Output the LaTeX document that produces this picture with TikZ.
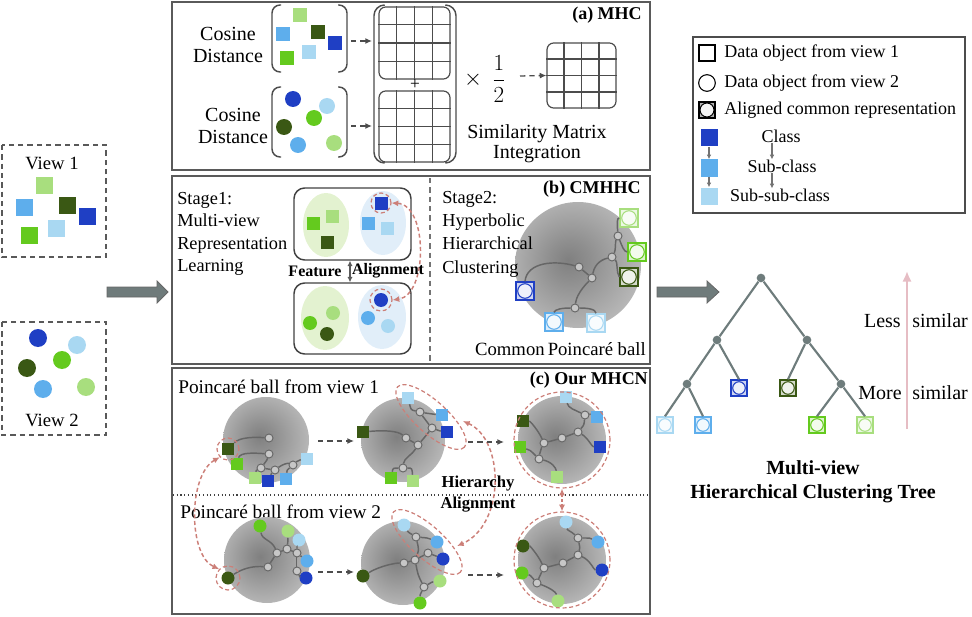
\documentclass[tikz,border=0pt]{standalone}
\usepackage{fontspec}
\setmainfont{Liberation Serif}
\usetikzlibrary{arrows.meta,calc}
\definecolor{cB}{HTML}{1F3FC4}
\definecolor{cM}{HTML}{5EAEEC}
\definecolor{cL}{HTML}{A9D8F2}
\definecolor{gD}{HTML}{3A5814}
\definecolor{gB}{HTML}{64CA1E}
\definecolor{gL}{HTML}{A8DE7E}
\definecolor{pinkc}{HTML}{CC7F78}
\definecolor{pinkl}{HTML}{E6BDC4}
\definecolor{treec}{HTML}{6E7C7C}
\definecolor{framec}{HTML}{5A5A5A}
\definecolor{arrc}{HTML}{6F7B7B}
\definecolor{ellG}{HTML}{E3F2D0}
\definecolor{ellB}{HTML}{E1EEF9}
\pgfdeclareradialshading{ballshade}{\pgfpoint{-4bp}{2bp}}{color(0bp)=(black!50); color(8bp)=(black!44); color(50bp)=(black!9)}
\newcommand\fN{\fontsize{14pt}{17pt}\selectfont}
\newcommand\fC{\fontsize{15pt}{18pt}\selectfont}
\newcommand\fL{\fontsize{13.5pt}{16pt}\selectfont}
\newcommand\fT{\fontsize{13.5pt}{16pt}\selectfont\bfseries}
\newcommand\fF{\fontsize{12pt}{15pt}\selectfont\bfseries}
\newcommand\gridin[1]{\foreach \i in {1,2,3}{%
  \draw[matline] ($(#1.north west)!\i/4!(#1.north east)$) -- ($(#1.south west)!\i/4!(#1.south east)$);
  \draw[matline] ($(#1.north west)!\i/4!(#1.south west)$) -- ($(#1.north east)!\i/4!(#1.south east)$);}}
% aligned leaf: name, position, colour, size (pt)
\newcommand\alleaf[4]{%
  \node[rectangle, draw=#3, line width=1.1pt, fill=#3!22, minimum size=#4, inner sep=0pt] (#1) at (#2) {};
  \node[circle, draw=#3, line width=0.8pt, fill=#3!8, minimum size=#4-2.6pt, inner sep=0pt] (#1c) at (#2) {};}
\begin{document}
\begin{tikzpicture}[x=0.75pt,y=-0.75pt,
  frame/.style={draw=framec, line width=1.5pt},
  vbox/.style={draw=black!65, dashed, dash pattern=on 4pt off 3pt, line width=1.1pt},
  brak/.style={draw=black!70, line width=1.1pt, rounded corners=6pt},
  matbox/.style={draw=black!70, line width=0.9pt, rounded corners=5pt, inner sep=0pt},
  matline/.style={draw=black!70, line width=0.9pt},
  darrow/.style={draw=black!70, dashed, dash pattern=on 4pt off 3pt, line width=1pt, -{Latex[length=5pt,width=4.5pt]}},
  pinkarr/.style={draw=pinkc, dashed, dash pattern=on 3pt off 2pt, line width=1.1pt, {Latex[length=5pt,width=4.5pt]}-{Latex[length=5pt,width=4.5pt]}},
  pinkring/.style={draw=pinkc, dashed, dash pattern=on 3pt off 2pt, line width=0.9pt},
  bigarrow/.style={fill=arrc, draw=black!60, line width=0.6pt},
  s17/.style={rectangle, inner sep=0pt, minimum size=12.75pt, fill=#1},
  c18/.style={circle, inner sep=0pt, minimum size=13.5pt, fill=#1},
  s14/.style={rectangle, inner sep=0pt, minimum size=10.5pt, fill=#1},
  c16/.style={circle, inner sep=0pt, minimum size=12pt, fill=#1},
  s13/.style={rectangle, inner sep=0pt, minimum size=9.75pt, fill=#1},
  c14/.style={circle, inner sep=0pt, minimum size=10.5pt, fill=#1},
  s12/.style={rectangle, inner sep=0pt, minimum size=9pt, fill=#1},
  c13/.style={circle, inner sep=0pt, minimum size=9.75pt, fill=#1},
  tn/.style={circle, draw=black!60, fill=black!22, line width=0.7pt, inner sep=0pt, minimum size=6pt},
  tedge/.style={draw=black!60, line width=1.1pt},
  rtn/.style={circle, fill=treec, inner sep=0pt, minimum size=6.5pt},
  redge/.style={draw=treec, line width=1.6pt},
  txt/.style={inner sep=0pt, font=\fN}
]
\useasboundingbox (0,0) rectangle (972,617);

% ================= frames =================
\draw[frame] (172,2) rectangle (650,170);
\draw[frame] (172,176) rectangle (650,364);
\draw[frame] (172,368) rectangle (650,614);
\draw[draw=black!55, dashed, dash pattern=on 4pt off 3pt, line width=0.8pt] (430,178) -- (430,362);
\draw[draw=black!75, dotted, line width=0.8pt] (173,495) -- (649,495);

% ================= views =================
\draw[vbox] (2,145) rectangle (106,257);
\draw[vbox] (2,322) rectangle (106,435);
\node[txt] (v1t) at (52,163) {View 1};
\node[txt] (v2t) at (52,420) {View 2};
\node[s17=gL] (v1a) at (44,185) {};
\node[s17=cM] (v1b) at (24,207) {};
\node[s17=gD] (v1c) at (67,205) {};
\node[s17=cB] (v1d) at (87,216) {};
\node[s17=gB] (v1e) at (29,235) {};
\node[s17=cL] (v1f) at (56,228) {};
\node[c18=cB] (v2a) at (38,338) {};
\node[c18=cL] (v2b) at (77,345) {};
\node[c18=gD] (v2c) at (27,368) {};
\node[c18=gB] (v2d) at (62,360) {};
\node[c18=cM] (v2e) at (43,389) {};
\node[c18=gL] (v2f) at (86,387) {};
\draw[bigarrow] (107,287) -- (157,287) -- (157,281) -- (168,292) -- (157,303) -- (157,297) -- (107,297) -- cycle;
\draw[bigarrow] (657,287) -- (707,287) -- (707,281) -- (719,292) -- (707,303) -- (707,297) -- (657,297) -- cycle;

% ================= (a) MHC =================
\node[anchor=east, inner sep=0pt, font=\fT] (atitle) at (642,15) {(a) MHC};
\node[align=center, inner sep=0pt, font=\fC] (cos1) at (228,45) {Cosine\\[-1pt]Distance};
\node[align=center, inner sep=0pt, font=\fC] (cos2) at (233,126) {Cosine\\[-1pt]Distance};
\draw[brak] (281,5) -- (272,5) -- (272,72) -- (281,72);
\draw[brak] (338,5) -- (347,5) -- (347,72) -- (338,72);
\draw[brak] (281,87) -- (272,87) -- (272,157) -- (281,157);
\draw[brak] (338,87) -- (347,87) -- (347,157) -- (338,157);
\node[s14=gL] (ga) at (300,15) {};
\node[s14=cM] (gb) at (283,34) {};
\node[s14=gD] (gc) at (318,32) {};
\node[s14=cB] (gd) at (335,43) {};
\node[s14=gB] (ge) at (287,58) {};
\node[s14=cL] (gf) at (309,52) {};
\node[c16=cB] (ha) at (293,99) {};
\node[c16=cL] (hb) at (327,106) {};
\node[c16=gD] (hc) at (284,127) {};
\node[c16=gB] (hd) at (314,118) {};
\node[c16=cM] (he) at (298,145) {};
\node[c16=gL] (hf) at (334,143) {};
\draw[brak, rounded corners=8pt] (384,5) -- (374,5) -- (374,163) -- (384,163);
\draw[brak, rounded corners=8pt] (446,5) -- (456,5) -- (456,163) -- (446,163);
\node[matbox, minimum width=53.25pt, minimum height=54pt] (m1) at (414.5,43) {};
\node[matbox, minimum width=53.25pt, minimum height=53.25pt] (m2) at (414.5,126.5) {};
\node[matbox, minimum width=51.75pt, minimum height=48.75pt] (m3) at (581.5,75.5) {};
\gridin{m1}\gridin{m2}\gridin{m3}
\node[inner sep=0pt, font=\fontsize{13pt}{15pt}\selectfont] (plus) at (415,85) {+};
\coordinate (g1o) at (351,41); \coordinate (g1i) at (372,41);
\coordinate (g2o) at (351,126); \coordinate (g2i) at (372,126);
\draw[darrow] (g1o) -- (g1i);
\draw[darrow] (g2o) -- (g2i);
\node[inner sep=0pt, font=\fontsize{17pt}{20pt}\selectfont] (times) at (473,80) {$\times$};
\node[inner sep=0pt, font=\fontsize{17pt}{20pt}\selectfont] (half) at (499,79) {$\displaystyle\frac{1}{2}$};
\coordinate (hfo) at (520,76);
\draw[darrow] (hfo) -- (m3.west);
\node[align=center, inner sep=0pt, font=\fC] (simint) at (537,144) {Similarity Matrix\\[-3pt]Integration};

% ================= (b) CMHHC =================
\node[anchor=east, inner sep=0pt, font=\fT] (btitle) at (641,189) {(b) CMHHC};
\node[anchor=west, align=left, inner sep=0pt, font=\fontsize{13.75pt}{16.8pt}\selectfont] (st1) at (177,234) {Stage1:\\Multi-view\\Representation\\Learning};
\fill[ellG] (326,225) ellipse (23 and 32);
\fill[ellB] (383,223) ellipse (23 and 32);
\fill[ellG] (325,318) ellipse (24 and 32);
\fill[ellB] (382,317) ellipse (24 and 32);
\node[draw=black!75, line width=1.1pt, rounded corners=8pt, inner sep=0pt, minimum width=87.75pt, minimum height=54pt] (fb1) at (352.5,224) {};
\node[draw=black!75, line width=1.1pt, rounded corners=8pt, inner sep=0pt, minimum width=87.75pt, minimum height=53.25pt] (fb2) at (352.5,318.5) {};
\node[s13=gB] (fa1) at (313,223) {};
\node[s13=gL] (fa2) at (332,216) {};
\node[s13=gD] (fa3) at (327,242) {};
\node[s13=cB] (fa4) at (381,203) {};
\node[s13=cM] (fa5) at (368,223) {};
\node[s13=cL] (fa6) at (387,228) {};
\node[c14=gB] (fb1a) at (310,323) {};
\node[c14=gL] (fb1b) at (333,313) {};
\node[c14=gD] (fb1c) at (327,334) {};
\node[c14=cB] (fb1d) at (381,300) {};
\node[c14=cM] (fb1e) at (368,318) {};
\node[c14=cL] (fb1f) at (388,326) {};
\node[pinkring, circle, inner sep=0pt, minimum size=15pt] (rg1) at (381,203) {};
\node[pinkring, circle, inner sep=0pt, minimum size=16.5pt] (rg2) at (381,300) {};
\draw[pinkarr] (rg1.east) .. controls (428,205) and (428,295) .. (rg2.east);
\draw[draw=black!65, line width=1.1pt, {Latex[length=4pt,width=4pt]}-{Latex[length=4pt,width=4pt]}] (fb1.south -| 350,0) -- (fb2.north -| 350,0);
\node[inner sep=0pt, font=\fF] (feat) at (315,271) {Feature};
\node[inner sep=0pt, font=\fF] (alig) at (388,271) {Alignment};

% common Poincare ball
\shade[shading=ballshade] (578,265) circle (63);
\node[anchor=west, align=left, inner sep=0pt, font=\fontsize{13.75pt}{17.5pt}\selectfont] (st2) at (442,234) {Stage2:\\Hyperbolic\\Hierarchical\\Clustering};
\node[tn] (bn1) at (579,267) {};
\node[tn] (bn2) at (592,278) {};
\node[tn] (bn3) at (612,257) {};
\node[tn] (bn4) at (618,236) {};
\node[tn] (bn5) at (575,308) {};
\alleaf{bl1}{525,291}{cB}{13.5pt}
\alleaf{bl2}{554,322}{cM}{13.5pt}
\alleaf{bl3}{596,323}{cL}{13.5pt}
\alleaf{bl4}{629,218}{gL}{13.5pt}
\alleaf{bl5}{637,252}{gB}{13.5pt}
\alleaf{bl6}{629,277}{gD}{13.5pt}
\draw[tedge] (bl1.north) .. controls (527,262) and (555,260) .. (bn1);
\draw[tedge] (bn1) -- (bn2);
\draw[tedge] (bn2) .. controls (595,262) and (604,259) .. (bn3);
\draw[tedge] (bn3) .. controls (616,250) and (615,242) .. (bn4);
\draw[tedge] (bn4) .. controls (617,222) and (617,218) .. (bl4.west);
\draw[tedge] (bn4) .. controls (622,246) and (624,252) .. (bl5.west);
\draw[tedge] (bn3) .. controls (618,262) and (616,272) .. (bl6.west);
\draw[tedge] (bn2) .. controls (580,290) and (576,298) .. (bn5);
\draw[tedge] (bn5) .. controls (563,308) and (555,309) .. (bl2.north);
\draw[tedge] (bn5) .. controls (587,308) and (596,309) .. (bl3.north);
\node[anchor=east, inner sep=0pt, font=\fN] (cpb) at (646,349) {Common\,Poincaré ball};

% ================= (c) Our MHCN =================
\node[anchor=east, inner sep=0pt, font=\fT] (ctitle) at (648,380) {(c) Our MHCN};
\node[anchor=west, inner sep=0pt, font=\fontsize{14.5pt}{17pt}\selectfont] (pb1) at (178,387) {Poincaré ball from view 1};
\node[anchor=west, inner sep=0pt, font=\fontsize{14.5pt}{17pt}\selectfont] (pb2) at (180,512) {Poincaré ball from view 2};

% ball V1a
\shade[shading=ballshade] (266,440) circle (43);
\node[s12=gD] (a1) at (228,449) {};
\node[s12=gB] (a2) at (237,464) {};
\node[s12=gL] (a3) at (255,478) {};
\node[s12=cB] (a4) at (268,481) {};
\node[s12=cM] (a5) at (286,479) {};
\node[s12=cL] (a6) at (307,459) {};
\node[tn] (an1) at (269,438) {};
\node[tn] (an2) at (269,454) {};
\node[tn] (an3) at (261,468) {};
\node[tn] (an4) at (275,470) {};
\node[tn] (an5) at (293,465) {};
\draw[tedge] (a1) .. controls (240,437) and (255,437) .. (an1);
\draw[tedge] (a2) .. controls (240,452) and (255,453) .. (an2);
\draw[tedge] (an2) .. controls (267,460) .. (an3);
\draw[tedge] (an3) .. controls (256,470) .. (a3);
\draw[tedge] (an3) -- (an4);
\draw[tedge] (an4) .. controls (271,474) .. (a4);
\draw[tedge] (an4) .. controls (283,464) and (288,463) .. (an5);
\draw[tedge] (an5) .. controls (287,470) .. (a5);
\draw[tedge] (an5) .. controls (298,460) .. (a6);

% ball V2a
\shade[shading=ballshade] (267,560) circle (43);
\node[c13=gB] (b1) at (260,526) {};
\node[c13=gL] (b2) at (288,531) {};
\node[c13=cL] (b3) at (299,540) {};
\node[c13=cM] (b4) at (307,561) {};
\node[c13=cB] (b5) at (306,578) {};
\node[c13=gD] (b6) at (228,578) {};
\node[tn] (bb1) at (268,567) {};
\node[tn] (bb2) at (277,553) {};
\node[tn] (bb3) at (287,549) {};
\node[tn] (bb4) at (297,553) {};
\node[tn] (bb5) at (297,571) {};
\draw[tedge] (b6) .. controls (245,567) and (256,566) .. (bb1);
\draw[tedge] (bb1) .. controls (272,560) .. (bb2);
\draw[tedge] (bb2) .. controls (272,540) and (262,540) .. (b1);
\draw[tedge] (bb2) -- (bb3);
\draw[tedge] (bb3) .. controls (288,542) .. (b2);
\draw[tedge] (bb3) -- (bb4);
\draw[tedge] (bb4) .. controls (297,546) .. (b3);
\draw[tedge] (bb4) .. controls (302,557) .. (b4);
\draw[tedge] (bb4) .. controls (296,562) .. (bb5);
\draw[tedge] (bb5) .. controls (300,577) .. (b5);

\node[pinkring, circle, inner sep=0pt, minimum size=16.5pt] (ra1) at (228,449) {};
\node[pinkring, circle, inner sep=0pt, minimum size=18pt] (ra2) at (228,578) {};
\draw[pinkarr] (ra1.south west) .. controls (188,475) and (188,555) .. (ra2.north west);

% ball V1b
\shade[shading=ballshade] (403,440) circle (42);
\node[s12=gD] (c1) at (363,432) {};
\node[s12=cL] (c2) at (408,398) {};
\node[s12=cM] (c3) at (442,415) {};
\node[s12=cB] (c4) at (447,432) {};
\node[s12=gB] (c5) at (391,478) {};
\node[s12=gL] (c6) at (413,481) {};
\node[tn] (cn1) at (406,438) {};
\node[tn] (cn2) at (418,445) {};
\node[tn] (cn3) at (420,412) {};
\node[tn] (cn4) at (432,428) {};
\node[tn] (cn5) at (403,468) {};
\draw[tedge] (c1) .. controls (385,430) and (398,431) .. (cn1);
\draw[tedge] (cn1) -- (cn2);
\draw[tedge] (cn2) .. controls (424,438) .. (cn4);
\draw[tedge] (cn4) .. controls (425,420) .. (cn3);
\draw[tedge] (cn3) .. controls (411,410) .. (c2);
\draw[tedge] (cn3) .. controls (430,414) .. (c3);
\draw[tedge] (cn4) .. controls (440,431) .. (c4);
\draw[tedge] (cn2) .. controls (412,455) and (404,458) .. (cn5);
\draw[tedge] (cn5) .. controls (393,468) .. (c5);
\draw[tedge] (cn5) .. controls (412,468) .. (c6);

% ball V2b
\shade[shading=ballshade] (403,563) circle (42);
\node[c13=gD] (d1) at (363,576) {};
\node[c13=cL] (d2) at (404,525) {};
\node[c13=cM] (d3) at (437,542) {};
\node[c13=cB] (d4) at (443,559) {};
\node[c13=gL] (d5) at (440,581) {};
\node[c13=gB] (d6) at (420,603) {};
\node[tn] (dn1) at (404,563) {};
\node[tn] (dn2) at (415,560) {};
\node[tn] (dn3) at (416,537) {};
\node[tn] (dn4) at (428,553) {};
\node[tn] (dn5) at (424,587) {};
\draw[tedge] (d1) .. controls (380,566) and (395,563) .. (dn1);
\draw[tedge] (dn1) -- (dn2);
\draw[tedge] (dn2) .. controls (419,550) .. (dn3);
\draw[tedge] (dn3) .. controls (408,532) .. (d2);
\draw[tedge] (dn3) .. controls (428,538) .. (d3);
\draw[tedge] (dn2) -- (dn4);
\draw[tedge] (dn4) .. controls (436,556) .. (d4);
\draw[tedge] (dn2) .. controls (418,575) .. (dn5);
\draw[tedge] (dn5) .. controls (432,582) .. (d5);
\draw[tedge] (dn5) .. controls (420,595) .. (d6);

\draw[pinkring, rotate around={-42:(431,417)}] (431,417) ellipse (45 and 16);
\draw[pinkring, rotate around={-42:(427,542)}] (427,542) ellipse (45 and 16);
\coordinate (ha1) at (463,421);
\coordinate (ha2) at (457,546);
\draw[pinkarr] (ha1) .. controls (505,440) and (505,525) .. (ha2);
\node[inner sep=0pt, font=\fontsize{12.5pt}{15pt}\selectfont\bfseries] (hier) at (478,484) {Hierarchy};
\node[inner sep=0pt, font=\fontsize{12.5pt}{15pt}\selectfont\bfseries] (hali) at (478,505) {Alignment};

\coordinate (dv1o) at (318,441); \coordinate (dv1i) at (354,441);
\coordinate (dv2o) at (318,572); \coordinate (dv2i) at (354,572);
\coordinate (dv3o) at (468,442); \coordinate (dv3i) at (504,442);
\coordinate (dv4o) at (468,575); \coordinate (dv4i) at (504,575);
\draw[darrow] (dv1o) -- (dv1i);
\draw[darrow] (dv2o) -- (dv2i);
\draw[darrow] (dv3o) -- (dv3i);
\draw[darrow] (dv4o) -- (dv4i);

% ball A1
\shade[shading=ballshade] (562,440) circle (44);
\node[s12=gD] (e1) at (523,421) {};
\node[s12=gB] (e2) at (520,447) {};
\node[s12=cL] (e3) at (566,397) {};
\node[s12=cM] (e4) at (597,417) {};
\node[s12=cB] (e5) at (600,447) {};
\node[s12=gL] (e6) at (557,477) {};
\node[tn] (en1) at (562,438) {};
\node[tn] (en2) at (578,432) {};
\node[tn] (en3) at (544,443) {};
\node[tn] (en4) at (539,459) {};
\node[tn] (en5) at (585,415) {};
\draw[tedge] (en1) -- (en2);
\draw[tedge] (en2) .. controls (584,425) .. (en5);
\draw[tedge] (en5) .. controls (575,410) and (568,408) .. (e3);
\draw[tedge] (en5) .. controls (590,414) .. (e4);
\draw[tedge] (en2) .. controls (588,438) and (592,447) .. (e5);
\draw[tedge] (en1) -- (en3);
\draw[tedge] (en3) .. controls (538,430) and (530,421) .. (e1);
\draw[tedge] (en3) .. controls (540,450) .. (en4);
\draw[tedge] (en4) .. controls (530,450) .. (e2);
\draw[tedge] (en4) .. controls (552,462) and (556,468) .. (e6);

% ball A2
\shade[shading=ballshade] (562,560) circle (44);
\node[c13=gD] (f1) at (523,546) {};
\node[c13=gB] (f2) at (522,573) {};
\node[c13=cL] (f3) at (566,522) {};
\node[c13=cM] (f4) at (598,542) {};
\node[c13=cB] (f5) at (602,570) {};
\node[c13=gL] (f6) at (558,601) {};
\node[tn] (fn1) at (563,563) {};
\node[tn] (fn2) at (578,555) {};
\node[tn] (fn3) at (544,568) {};
\node[tn] (fn4) at (537,583) {};
\node[tn] (fn5) at (578,538) {};
\draw[tedge] (fn1) -- (fn2);
\draw[tedge] (fn2) .. controls (580,548) .. (fn5);
\draw[tedge] (fn5) .. controls (572,532) and (567,530) .. (f3);
\draw[tedge] (fn5) .. controls (590,538) .. (f4);
\draw[tedge] (fn2) .. controls (590,560) and (594,570) .. (f5);
\draw[tedge] (fn1) -- (fn3);
\draw[tedge] (fn3) .. controls (538,555) and (530,546) .. (f1);
\draw[tedge] (fn3) .. controls (540,575) .. (fn4);
\draw[tedge] (fn4) .. controls (530,575) .. (f2);
\draw[tedge] (fn4) .. controls (550,588) and (556,592) .. (f6);

\node[pinkring, circle, inner sep=0pt, minimum size=72pt] (rA1) at (562,440) {};
\node[pinkring, circle, inner sep=0pt, minimum size=72pt] (rA2) at (562,560) {};
\draw[pinkarr, dash pattern=on 2pt off 1.5pt] (rA1.south) -- (rA2.north);

% ================= legend =================
\draw[draw=black!70, line width=1pt] (693,37) rectangle (965,213);
\node[rectangle, draw=black, line width=0.8pt, minimum size=12pt, inner sep=0pt] (lg1) at (707,53) {};
\node[circle, draw=black, line width=0.8pt, minimum size=12.5pt, inner sep=0pt] (lg2) at (707,83) {};
\node[rectangle, draw=black, line width=0.8pt, fill=black!30, minimum size=12pt, inner sep=0pt] (lg3) at (707,110) {};
\node[circle, draw=black, line width=0.8pt, fill=black!5, minimum size=10.5pt, inner sep=0pt] (lg3c) at (707,110) {};
\node[anchor=west, inner sep=0pt, font=\fL] (lt1) at (724,53) {Data object from view 1};
\node[anchor=west, inner sep=0pt, font=\fL] (lt2) at (724,83) {Data object from view 2};
\node[anchor=west, inner sep=0pt, font=\fL] (lt3) at (724,110) {Aligned common representation};
\node[rectangle, fill=cB, minimum size=12.75pt, inner sep=0pt] (lc1) at (709,138) {};
\node[rectangle, fill=cM, minimum size=12.75pt, inner sep=0pt] (lc2) at (709,168) {};
\node[rectangle, fill=cL, minimum size=12.75pt, inner sep=0pt] (lc3) at (709,196) {};
\draw[draw=black!55, line width=0.8pt, -{Latex[length=3.5pt,width=3.5pt]}] (lc1) -- (lc2);
\draw[draw=black!55, line width=0.8pt, -{Latex[length=3.5pt,width=3.5pt]}] (lc2) -- (lc3);
\node[inner sep=0pt, font=\fL] (lh1) at (781,136) {Class};
\node[inner sep=0pt, font=\fL] (lh2) at (782,166) {Sub-class};
\node[inner sep=0pt, font=\fL] (lh3) at (780,195) {Sub-sub-class};
\draw[draw=black!55, line width=0.8pt, -{Latex[length=3.5pt,width=3.5pt]}] (lh1.south -| 772,0) -- (lh2.north -| 772,0);
\draw[draw=black!55, line width=0.8pt, -{Latex[length=3.5pt,width=3.5pt]}] (lh2.south -| 772,0) -- (lh3.north -| 772,0);

% ================= tree =================
\node[rtn] (r0) at (761,278) {};
\node[rtn] (r1) at (717,340) {};
\node[rtn] (r2) at (807,340) {};
\node[rtn] (r3) at (687,384) {};
\node[rtn] (r4) at (841,384) {};
\alleaf{t1}{665,425}{cL}{12pt}
\alleaf{t2}{703,425}{cM}{12pt}
\alleaf{t3}{739,388}{cB}{12pt}
\alleaf{t4}{788,388}{gD}{12pt}
\alleaf{t5}{817,425}{gB}{12pt}
\alleaf{t6}{865,425}{gL}{12pt}
\draw[redge] (r0) -- (r1);
\draw[redge] (r0) -- (r2);
\draw[redge] (r1) -- (r3);
\draw[redge] (r1) -- (t3.north);
\draw[redge] (r2) -- (t4.north);
\draw[redge] (r2) -- (r4);
\draw[redge] (r3) -- (t1.north);
\draw[redge] (r3) -- (t2.north);
\draw[redge] (r4) -- (t5.north);
\draw[redge] (r4) -- (t6.north);
\coordinate (simlo) at (907,429);
\coordinate (simhi) at (907,271);
\draw[draw=pinkl, line width=2.2pt, -{Latex[length=8pt,width=7pt]}] (simlo) -- (simhi);
\node[anchor=east, inner sep=0pt, font=\fC] (less) at (901,321) {Less};
\node[anchor=west, inner sep=0pt, font=\fC] (lsim) at (912,321) {similar};
\node[anchor=east, inner sep=0pt, font=\fC] (more) at (902,393) {More};
\node[anchor=west, inner sep=0pt, font=\fC] (msim) at (912,393) {similar};
\node[inner sep=0pt, font=\fontsize{15pt}{18pt}\selectfont\bfseries] (mvt1) at (813,468) {Multi-view};
\node[inner sep=0pt, font=\fontsize{15pt}{18pt}\selectfont\bfseries] (mvt2) at (813,494) {Hierarchical Clustering Tree};
\end{tikzpicture}
\end{document}
